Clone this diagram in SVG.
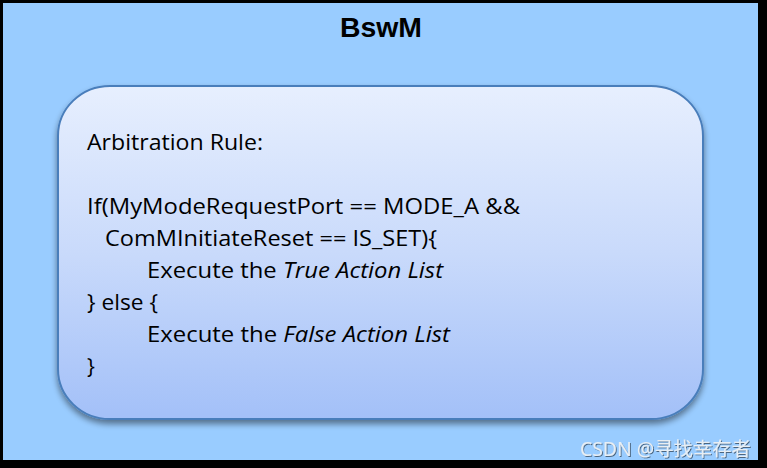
<svg xmlns="http://www.w3.org/2000/svg" width="767" height="468" viewBox="0 0 767 468">
<style>
.code{font-family:"Open Sans","Noto Sans",sans-serif;font-size:21px;fill:#000}
.it{font-style:italic}
</style>
<defs>
<linearGradient id="g" x1="0" y1="0" x2="0" y2="1">
<stop offset="0" stop-color="#E7EFFE"/>
<stop offset="0.5" stop-color="#C9DAFB"/>
<stop offset="1" stop-color="#A3C0F8"/>
</linearGradient>
<filter id="sh" x="-10%" y="-10%" width="120%" height="130%">
<feGaussianBlur in="SourceAlpha" stdDeviation="3"/>
<feOffset dx="0" dy="4"/>
<feComponentTransfer><feFuncA type="linear" slope="0.45"/></feComponentTransfer>
<feMerge><feMergeNode/><feMergeNode in="SourceGraphic"/></feMerge>
</filter>
<filter id="ts" x="-5%" y="-20%" width="110%" height="140%">
<feGaussianBlur in="SourceAlpha" stdDeviation="0.6"/>
<feOffset dx="0.6" dy="0.6"/>
<feComponentTransfer><feFuncA type="linear" slope="0.5"/></feComponentTransfer>
<feMerge><feMergeNode/><feMergeNode in="SourceGraphic"/></feMerge>
</filter>
</defs>
<rect x="0" y="0" width="767" height="468" fill="#000"/>
<g id="bswm">
<rect x="3" y="3" width="755" height="457" fill="#99CCFF"/>
<text x="381" y="37" text-anchor="middle" font-family="Liberation Sans,Arial,sans-serif" font-weight="bold" font-size="28" textLength="82" lengthAdjust="spacingAndGlyphs">BswM</text>
</g>
<g id="rule">
<rect x="58" y="86" width="645" height="333" rx="52" ry="50" fill="url(#g)" stroke="#4A7EBB" stroke-width="2" filter="url(#sh)"/>
<text class="code" x="87" y="150" textLength="176" lengthAdjust="spacingAndGlyphs">Arbitration Rule:</text>
<text class="code" x="87" y="214" textLength="433" lengthAdjust="spacingAndGlyphs">If(MyModeRequestPort == MODE_A &amp;&amp;</text>
<text class="code" x="105" y="246" textLength="332" lengthAdjust="spacingAndGlyphs">ComMInitiateReset == IS_SET){</text>
<text class="code" x="147" y="278" textLength="296" lengthAdjust="spacingAndGlyphs">Execute the <tspan class="it">True Action List</tspan></text>
<text class="code" x="87" y="310" textLength="71" lengthAdjust="spacingAndGlyphs">} else {</text>
<text class="code" x="147" y="342" textLength="303" lengthAdjust="spacingAndGlyphs">Execute the <tspan class="it">False Action List</tspan></text>
<text class="code" x="87" y="374">}</text>
</g>
<text x="751" y="456" text-anchor="end" font-family="Noto Sans,Noto Sans CJK SC,sans-serif" font-size="19" fill="#E8EEF4" filter="url(#ts)" textLength="171" lengthAdjust="spacingAndGlyphs">CSDN @寻找幸存者</text>
</svg>
